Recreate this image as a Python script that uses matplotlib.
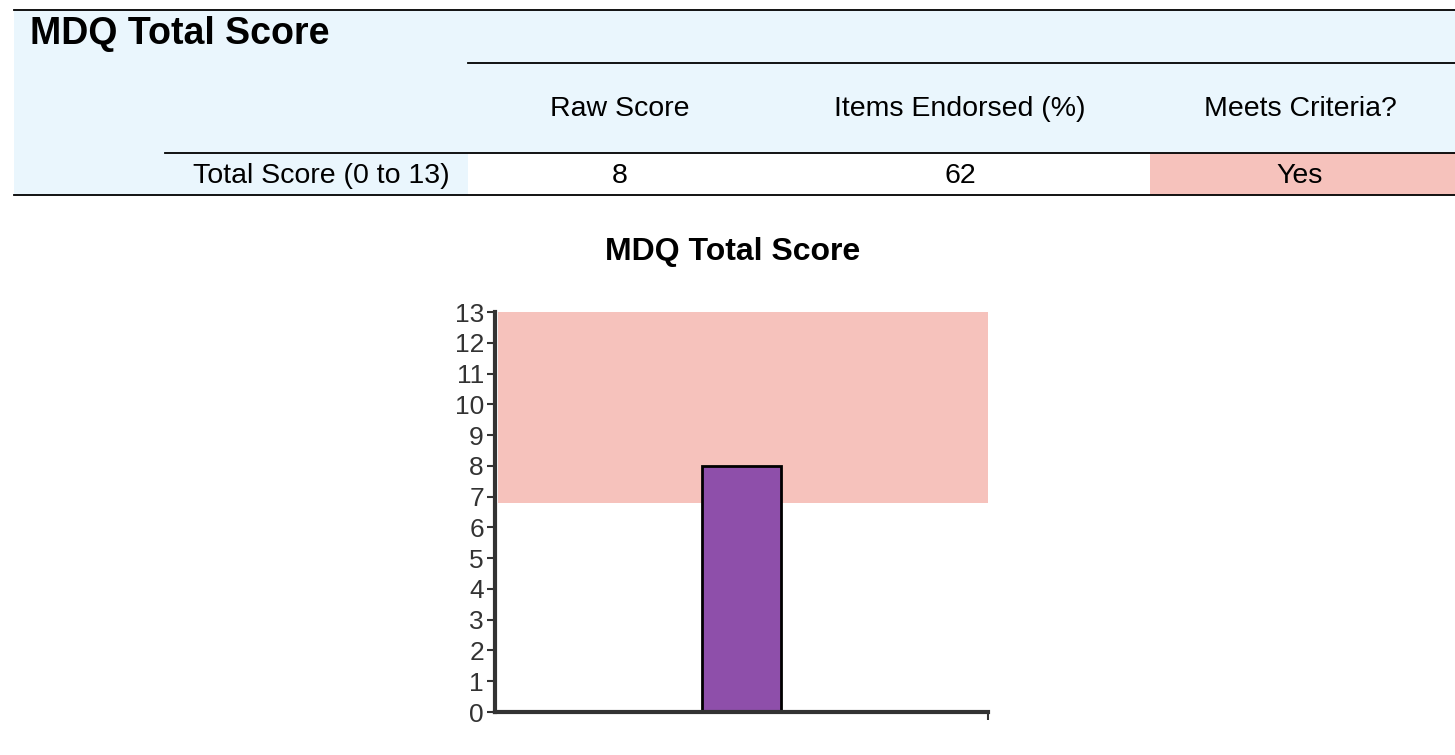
import matplotlib
matplotlib.use("Agg")
import matplotlib.pyplot as plt
from matplotlib.patches import Rectangle
from matplotlib.lines import Line2D

plt.rcParams['font.family'] = ['Liberation Sans', 'DejaVu Sans']

title = "MDQ Total Score"
col_headers = ["Raw Score", "Items Endorsed (%)", "Meets Criteria?"]
row_label = "Total Score (0 to 13)"
row_values = ["8", "62", "Yes"]
categories = ["Total Score"]
scores = [8]
threshold_low = 6.8
y_max = 13

W, H = 1455, 755
fig = plt.figure(figsize=(W/100, H/100), dpi=100)

def fx(x): return x / W
def fy(y): return 1 - y / H

def rect(x0, y0, x1, y1, color):
    fig.add_artist(Rectangle((fx(x0), fy(y1)), fx(x1) - fx(x0), fy(y0) - fy(y1),
                             transform=fig.transFigure, facecolor=color, edgecolor='none', zorder=0))

def hline(x0, x1, y, lw=1.3):
    fig.add_artist(Line2D([fx(x0), fx(x1)], [fy(y), fy(y)], transform=fig.transFigure,
                          color='black', lw=lw, zorder=2))

blue = '#EAF6FD'
pink = '#F6C2BC'
rect(14, 10, 1455, 153, blue)
rect(14, 153, 468, 195, blue)
rect(1150, 153, 1455, 195, pink)
hline(14, 1455, 10)
hline(468, 1455, 63)
hline(165, 1455, 153)
hline(14, 1455, 195)

fig.text(fx(30), fy(34), title, fontsize=27, fontweight='bold', va='center', ha='left')
col_x = [620, 960, 1300]
for cx, h in zip(col_x, col_headers):
    fig.text(fx(cx), fy(109), h, fontsize=20.5, ha='center', va='center')
fig.text(fx(450), fy(176), row_label, fontsize=20.5, ha='right', va='center')
for cx, v in zip(col_x, row_values):
    fig.text(fx(cx), fy(176), v, fontsize=20.5, ha='center', va='center')

fig.text(fx(733), fy(252), title, fontsize=23, fontweight='bold', ha='center', va='center')

ax = fig.add_axes([fx(495), fy(712), fx(988) - fx(495), fy(312) - fy(712)])
ax.set_xlim(0, 1)
ax.set_ylim(0, y_max)
ax.axhspan(threshold_low, y_max, xmin=0.006, xmax=1, color=pink, zorder=0, lw=0)
ax.bar([0.5], scores, width=0.16, color='#8E4FAA', edgecolor='black', lw=2, zorder=2)
for s in ['top', 'right']:
    ax.spines[s].set_visible(False)
for s in ['left', 'bottom']:
    ax.spines[s].set_color('#333333')
    ax.spines[s].set_linewidth(3)
ax.set_yticks(range(0, y_max + 1))
ax.tick_params(axis='y', labelsize=19, length=6, width=1.5, color='#333333', labelcolor='#333333', pad=2)
ax.set_xticks([1.0])
ax.set_xticklabels([])
ax.tick_params(axis='x', length=6, width=1.5, color='#333333')
ax.patch.set_alpha(0)

fig.savefig("out.png", dpi=100)
